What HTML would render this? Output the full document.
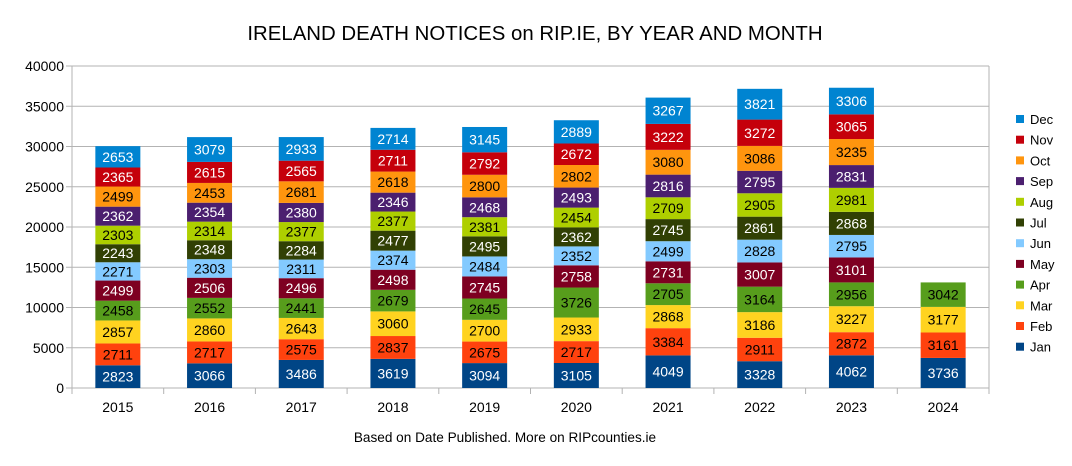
<!DOCTYPE html>
<html><head><meta charset="utf-8"><style>
body{margin:0;background:#fff;}
svg{display:block;font-family:"Liberation Sans",sans-serif;}
</style></head><body>
<svg id="chart" width="1072" height="466" viewBox="0 0 1072 466" xmlns="http://www.w3.org/2000/svg">
<rect width="1072" height="466" fill="#fff"/>
<text x="535" y="40" text-anchor="middle" font-size="20.4">IRELAND DEATH NOTICES on RIP.IE, BY YEAR AND MONTH</text>
<text x="505" y="442" text-anchor="middle" font-size="13.6">Based on Date Published. More on RIPcounties.ie</text>
<g id="grid"></g><g id="bars"></g><g id="axes"></g><g id="legend"></g>
</svg>
<script>
const years=["2015","2016","2017","2018","2019","2020","2021","2022","2023","2024"];
const months=["Jan","Feb","Mar","Apr","May","Jun","Jul","Aug","Sep","Oct","Nov","Dec"];
const jan=[2823,3066,3486,3619,3094,3105,4049,3328,4062,3736];
const feb=[2711,2717,2575,2837,2675,2717,3384,2911,2872,3161];
const mar=[2857,2860,2643,3060,2700,2933,2868,3186,3227,3177];
const apr=[2458,2552,2441,2679,2645,3726,2705,3164,2956,3042];
const may=[2499,2506,2496,2498,2745,2758,2731,3007,3101,null];
const jun=[2271,2303,2311,2374,2484,2352,2499,2828,2795,null];
const jul=[2243,2348,2284,2477,2495,2362,2745,2861,2868,null];
const aug=[2303,2314,2377,2377,2381,2454,2709,2905,2981,null];
const sep=[2362,2354,2380,2346,2468,2493,2816,2795,2831,null];
const oct=[2499,2453,2681,2618,2800,2802,3080,3086,3235,null];
const nov=[2365,2615,2565,2711,2792,2672,3222,3272,3065,null];
const dec=[2653,3079,2933,2714,3145,2889,3267,3821,3306,null];
const yTicks=[0,5000,10000,15000,20000,25000,30000,35000,40000];
const series=[jan,feb,mar,apr,may,jun,jul,aug,sep,oct,nov,dec];
const colors=["#004586","#ff420e","#ffd320","#579d1c","#7e0021","#83caff","#314004","#aecf00","#4b1f6f","#ff950e","#c5000b","#0084d1"];
const textCol=["#fff","#000","#000","#000","#fff","#000","#fff","#000","#fff","#000","#fff","#fff"];
const L=72,R=989,T=66,B=388,yMax=40000;
const y=v=>B-(v/yMax)*(B-T);
const band=(R-L)/years.length;
const xc=i=>L+band*(i+0.5);
const barW=45;
const NS="http://www.w3.org/2000/svg";
function mk(tag,attrs,parent,txt){const e=document.createElementNS(NS,tag);for(const k in attrs)e.setAttribute(k,attrs[k]);if(txt!==undefined)e.textContent=txt;parent.appendChild(e);return e;}
const grid=document.getElementById('grid'),bars=document.getElementById('bars'),axes=document.getElementById('axes'),legend=document.getElementById('legend');
yTicks.forEach(t=>{
  const l=mk('line',{x1:L-6,x2:R,y1:y(t),y2:y(t),stroke:"#b3b3b3","stroke-width":1},grid);
  
  
  const tx=mk('text',{x:L-8,y:y(t)+5,"text-anchor":"end","font-size":14},axes,String(t));
  
  
});
const ax=mk('line',{x1:L,x2:L,y1:T,y2:B,stroke:"#b3b3b3"},axes);


const ax2=mk('line',{x1:R,x2:R,y1:T,y2:B,stroke:"#b3b3b3"},axes);


for(let i=0;i<=years.length;i++){
  const tk=mk('line',{x1:L+band*i,x2:L+band*i,y1:B,y2:B+6,stroke:"#b3b3b3"},axes);
  
  
}
years.forEach((yr,i)=>{
  const tx=mk('text',{x:xc(i),y:412,"text-anchor":"middle","font-size":14},axes,yr);
  
  
  let cum=0;
  series.forEach((s,k)=>{
    const v=s[i]; if(v==null)return;
    const y0=y(cum),y1=y(cum+v);cum+=v;
    const r=mk('rect',{x:xc(i)-barW/2,y:y1,width:barW,height:y0-y1,fill:colors[k]},bars);
    
    
    const lt=mk('text',{x:xc(i),y:(y0+y1)/2+5,"text-anchor":"middle","font-size":14,fill:textCol[k]},bars,String(v));
    
    
  });
});
for(let k=11;k>=0;k--){
  const yy=119+(11-k)*20.7;
  const g=mk('g',{},legend);
  
  
  mk('rect',{x:1016,y:yy-4,width:8,height:8,fill:colors[k]},g);
  mk('text',{x:1030,y:yy+5,"font-size":13},g,months[k]);
}
</script>
</body></html>
